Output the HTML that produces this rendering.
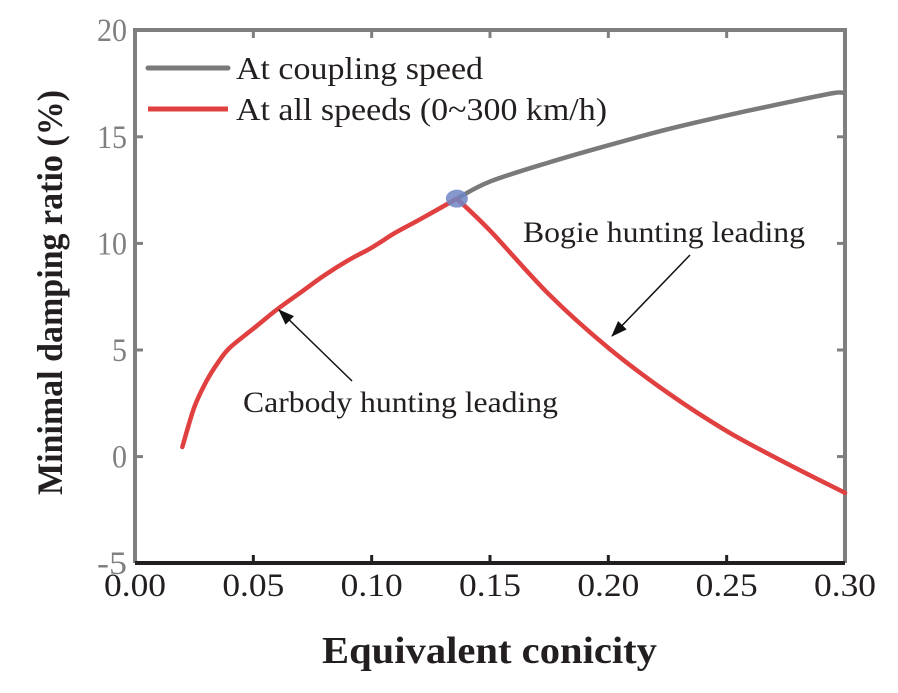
<!DOCTYPE html>
<html><head><meta charset="utf-8"><style>
body{margin:0;background:#fff}
svg text{font-family:"Liberation Serif",serif}
</style></head><body>
<svg id="c" width="898" height="688" xmlns="http://www.w3.org/2000/svg"></svg>
<script>
const xTicks=[0,0.05,0.10,0.15,0.20,0.25,0.30];
const xTickLabels=["0.00","0.05","0.10","0.15","0.20","0.25","0.30"];
const yTicks=[-5,0,5,10,15,20];
const yTickLabels=["-5","0","5","10","15","20"];
const couplingX=[0.136,0.15,0.175,0.2,0.225,0.25,0.275,0.295,0.30];
const couplingY=[12.1,12.9,13.8,14.6,15.35,16.0,16.6,17.05,17.05];
const allX=[0.02,0.025,0.03,0.035,0.04,0.05,0.06,0.07,0.08,0.09,0.10,0.11,0.12,0.136,0.15,0.175,0.2,0.225,0.25,0.275,0.30];
const allY=[0.45,2.3,3.5,4.4,5.1,6.0,6.9,7.7,8.5,9.2,9.8,10.5,11.1,12.1,10.6,7.6,5.1,3.0,1.2,-0.3,-1.7];
const crossX=0.136, crossY=12.1;
const NS="http://www.w3.org/2000/svg";
const svg=document.getElementById('c');
const X=v=>135+(v-0)/0.30*710;
const Y=v=>456.6-v*21.32;
function el(t,a,txt){const e=document.createElementNS(NS,t);for(const k in a)e.setAttribute(k,a[k]);if(txt!==undefined)e.textContent=txt;svg.appendChild(e);return e;}
function smooth(xs,ys,breakAt){
 const p=xs.map((x,i)=>[X(x),Y(ys[i])]);
 let d='M'+p[0][0]+','+p[0][1];
 for(let i=0;i<p.length-1;i++){
  const kink0=breakAt!==undefined&&xs[i]===breakAt, kink1=breakAt!==undefined&&xs[i+1]===breakAt;
  const p0=(i>0&&!kink0)?p[i-1]:p[i], p3=(i+2<p.length&&!kink1)?p[i+2]:p[i+1];
  const c1=[p[i][0]+(p[i+1][0]-p0[0])/6,p[i][1]+(p[i+1][1]-p0[1])/6];
  const c2=[p[i+1][0]-(p3[0]-p[i][0])/6,p[i+1][1]-(p3[1]-p[i][1])/6];
  d+=' C'+c1.join(',')+' '+c2.join(',')+' '+p[i+1].join(',');
 }
 return d;
}
let e;
e=el('path',{d:'M135,563 L135,30 L845,30 L845,563',fill:'none',stroke:'#7f7f7f','stroke-width':4});


e=el('line',{x1:135,y1:563,x2:845,y2:563,stroke:'#231f20','stroke-width':4});


xTicks.forEach((v,i)=>{
 if(i>0&&i<xTicks.length-1){
 e=el('line',{x1:X(v),y1:563,x2:X(v),y2:555,stroke:'#231f20','stroke-width':3});
 
 
 e=el('line',{x1:X(v),y1:30,x2:X(v),y2:38,stroke:'#7f7f7f','stroke-width':3});
 
 }
 e=el('text',{x:X(v)-31,y:596,'font-size':33,fill:'#231f20',textLength:62,lengthAdjust:'spacingAndGlyphs'},xTickLabels[i]);
 
 
});
yTicks.forEach((v,i)=>{
 if(i>0&&i<yTicks.length-1){
 e=el('line',{x1:135,y1:Y(v),x2:143,y2:Y(v),stroke:'#7f7f7f','stroke-width':3});
 
 
 e=el('line',{x1:845,y1:Y(v),x2:837,y2:Y(v),stroke:'#7f7f7f','stroke-width':3});
 
 }
 const lab=yTickLabels[i];
 e=el('text',{x:127-lab.length*15,y:Y(v)+11,'font-size':33,fill:'#7f7f7f',textLength:lab.length*15,lengthAdjust:'spacingAndGlyphs'},lab);
 
 
});
e=el('path',{d:smooth(couplingX,couplingY),fill:'none',stroke:'#7a7a7a','stroke-width':4.5,'stroke-linejoin':'round'});


e=el('path',{d:smooth(allX,allY,crossX),fill:'none',stroke:'#e04040','stroke-width':4.5,'stroke-linejoin':'round','stroke-linecap':'round'});


e=el('ellipse',{cx:X(crossX),cy:Y(crossY),rx:11,ry:9,fill:'#6f86c6','fill-opacity':0.85});


e=el('line',{x1:148,y1:68,x2:228,y2:68,stroke:'#7a7a7a','stroke-width':5,'stroke-linecap':'round'});


e=el('text',{x:236,y:79,'font-size':32,fill:'#231f20',textLength:247,lengthAdjust:'spacingAndGlyphs'},'At coupling speed');


e=el('line',{x1:148,y1:109,x2:228,y2:109,stroke:'#e04040','stroke-width':5});


e=el('text',{x:236,y:120,'font-size':32,fill:'#231f20',textLength:371,lengthAdjust:'spacingAndGlyphs'},'At all speeds (0~300 km/h)');


const defs=el('defs',{});
defs.innerHTML='<marker id="ah" markerWidth="16" markerHeight="12" refX="15" refY="6" orient="auto" markerUnits="userSpaceOnUse"><path d="M0,0 L16,6 L0,12 z" fill="#111"/></marker>';
e=el('text',{x:523,y:242,'font-size':30,fill:'#231f20',textLength:282,lengthAdjust:'spacingAndGlyphs'},'Bogie hunting leading');


e=el('line',{x1:690,y1:255,x2:612,y2:336,stroke:'#111','stroke-width':1.5,'marker-end':'url(#ah)'});


e=el('text',{x:243,y:412,'font-size':30,fill:'#231f20',textLength:315,lengthAdjust:'spacingAndGlyphs'},'Carbody hunting leading');


e=el('line',{x1:352,y1:381,x2:279,y2:310,stroke:'#111','stroke-width':1.5,'marker-end':'url(#ah)'});


e=el('text',{x:322,y:663,'font-size':38,'font-weight':'bold',fill:'#231f20',textLength:335,lengthAdjust:'spacingAndGlyphs'},'Equivalent conicity');


e=el('text',{x:-203,y:0,'font-size':36,'font-weight':'bold',fill:'#231f20',transform:'translate(62,292) rotate(-90)',textLength:405,lengthAdjust:'spacingAndGlyphs'},'Minimal damping ratio (%)');


</script>
</body></html>
